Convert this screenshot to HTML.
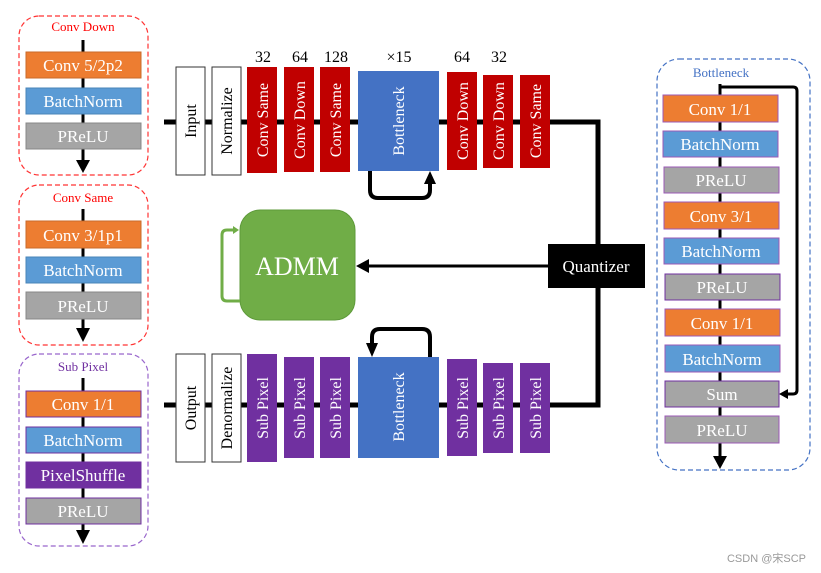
<!DOCTYPE html>
<html><head><meta charset="utf-8"><style>
html,body{margin:0;padding:0;background:#fff}
svg{display:block}
text{font-family:"Liberation Serif",serif}
</style></head><body>
<svg width="821" height="573" viewBox="0 0 821 573" xmlns="http://www.w3.org/2000/svg">
<defs>
<marker id="ah" markerWidth="8" markerHeight="8" refX="4" refY="4" orient="auto" markerUnits="userSpaceOnUse"><path d="M0,0 L8,4 L0,8 Z" fill="#000"/></marker>
</defs>
<!-- Left panel: Conv Down -->
<rect x="19" y="16" width="129" height="159" rx="20" fill="none" stroke="#f33" stroke-width="1.2" stroke-dasharray="5,3"/>
<text x="83" y="31" font-size="13" fill="#f00" text-anchor="middle">Conv Down</text>
<line x1="83" y1="40" x2="83" y2="162" stroke="#000" stroke-width="3"/>
<path d="M76,160 L90,160 L83,173 Z"/>
<rect x="26" y="52" width="115" height="26" fill="#ED7D31" stroke="#c96a2a"/>
<text x="83" y="71" font-size="17" fill="#fff" text-anchor="middle">Conv 5/2p2</text>
<rect x="26" y="88" width="115" height="26" fill="#5B9BD5" stroke="#4a84b8"/>
<text x="83" y="107" font-size="17" fill="#fff" text-anchor="middle">BatchNorm</text>
<rect x="26" y="123" width="115" height="26" fill="#A5A5A5" stroke="#888"/>
<text x="83" y="142" font-size="17" fill="#fff" text-anchor="middle">PReLU</text>
<!-- Conv Same -->
<rect x="19" y="185" width="129" height="160" rx="20" fill="none" stroke="#f33" stroke-width="1.2" stroke-dasharray="5,3"/>
<text x="83" y="202" font-size="13" fill="#f00" text-anchor="middle">Conv Same</text>
<line x1="83" y1="209" x2="83" y2="330" stroke="#000" stroke-width="3"/>
<path d="M76,328 L90,328 L83,342 Z"/>
<rect x="26" y="221" width="115" height="27" fill="#ED7D31" stroke="#c96a2a"/>
<text x="83" y="241" font-size="17" fill="#fff" text-anchor="middle">Conv 3/1p1</text>
<rect x="26" y="257" width="115" height="26" fill="#5B9BD5" stroke="#4a84b8"/>
<text x="83" y="276" font-size="17" fill="#fff" text-anchor="middle">BatchNorm</text>
<rect x="26" y="292" width="115" height="27" fill="#A5A5A5" stroke="#888"/>
<text x="83" y="312" font-size="17" fill="#fff" text-anchor="middle">PReLU</text>
<!-- Sub Pixel -->
<rect x="19" y="354" width="129" height="192" rx="20" fill="none" stroke="#9966cc" stroke-width="1.2" stroke-dasharray="5,3"/>
<text x="83" y="371" font-size="13" fill="#7030A0" text-anchor="middle">Sub Pixel</text>
<line x1="83" y1="378" x2="83" y2="532" stroke="#000" stroke-width="3"/>
<path d="M76,530 L90,530 L83,544 Z"/>
<rect x="26" y="391" width="115" height="26" fill="#ED7D31" stroke="#7030A0"/>
<text x="83" y="410" font-size="17" fill="#fff" text-anchor="middle">Conv 1/1</text>
<rect x="26" y="427" width="115" height="26" fill="#5B9BD5" stroke="#7030A0"/>
<text x="83" y="446" font-size="17" fill="#fff" text-anchor="middle">BatchNorm</text>
<rect x="26" y="462" width="115" height="26" fill="#7030A0" stroke="#7030A0"/>
<text x="83" y="481" font-size="17" fill="#fff" text-anchor="middle">PixelShuffle</text>
<rect x="26" y="498" width="115" height="26" fill="#A5A5A5" stroke="#7030A0"/>
<text x="83" y="517" font-size="17" fill="#fff" text-anchor="middle">PReLU</text>

<!-- main lines -->
<polyline points="164,122 598,122 598,405 164,405" fill="none" stroke="#000" stroke-width="5"/>
<!-- top row -->
<g font-size="16" fill="#fff" text-anchor="middle">
<rect x="176" y="67" width="29" height="108" fill="#fff" stroke="#333"/>
<text transform="translate(196,121) rotate(-90)" fill="#000">Input</text>
<rect x="212" y="67" width="29" height="108" fill="#fff" stroke="#333"/>
<text transform="translate(232,121) rotate(-90)" fill="#000">Normalize</text>
<rect x="247" y="67" width="30" height="106" fill="#C00000"/>
<text transform="translate(268,120) rotate(-90)">Conv Same</text>
<rect x="284" y="67" width="30" height="105" fill="#C00000"/>
<text transform="translate(305,120) rotate(-90)">Conv Down</text>
<rect x="320" y="67" width="30" height="105" fill="#C00000"/>
<text transform="translate(341,120) rotate(-90)">Conv Same</text>
<rect x="358" y="71" width="81" height="100" fill="#4472C4"/>
<text transform="translate(404,121) rotate(-90)">Bottleneck</text>
<rect x="447" y="72" width="30" height="98" fill="#C00000"/>
<text transform="translate(468,121) rotate(-90)">Conv Down</text>
<rect x="483" y="75" width="30" height="93" fill="#C00000"/>
<text transform="translate(504,121) rotate(-90)">Conv Down</text>
<rect x="520" y="75" width="30" height="93" fill="#C00000"/>
<text transform="translate(541,121) rotate(-90)">Conv Same</text>
</g>
<g font-size="16" fill="#000" text-anchor="middle">
<text x="263" y="62">32</text><text x="300" y="62">64</text><text x="336" y="62">128</text>
<text x="399" y="62">×15</text><text x="462" y="62">64</text><text x="499" y="62">32</text>
</g>
<path d="M370,171 L370,190 Q370,198 378,198 L422,198 Q430,198 430,190 L430,182" fill="none" stroke="#000" stroke-width="4"/>
<path d="M424,184 L436,184 L430,171 Z"/>
<!-- bottom row -->
<g font-size="16" fill="#fff" text-anchor="middle">
<rect x="176" y="354" width="29" height="108" fill="#fff" stroke="#333"/>
<text transform="translate(196,408) rotate(-90)" fill="#000">Output</text>
<rect x="212" y="354" width="29" height="108" fill="#fff" stroke="#333"/>
<text transform="translate(232,408) rotate(-90)" fill="#000">Denormalize</text>
<rect x="247" y="354" width="30" height="108" fill="#7030A0"/>
<text transform="translate(268,408) rotate(-90)">Sub Pixel</text>
<rect x="284" y="357" width="30" height="101" fill="#7030A0"/>
<text transform="translate(305,408) rotate(-90)">Sub Pixel</text>
<rect x="320" y="357" width="30" height="101" fill="#7030A0"/>
<text transform="translate(341,408) rotate(-90)">Sub Pixel</text>
<rect x="358" y="357" width="81" height="101" fill="#4472C4"/>
<text transform="translate(404,407) rotate(-90)">Bottleneck</text>
<rect x="447" y="359" width="30" height="97" fill="#7030A0"/>
<text transform="translate(468,408) rotate(-90)">Sub Pixel</text>
<rect x="483" y="363" width="30" height="90" fill="#7030A0"/>
<text transform="translate(504,408) rotate(-90)">Sub Pixel</text>
<rect x="520" y="363" width="30" height="90" fill="#7030A0"/>
<text transform="translate(541,408) rotate(-90)">Sub Pixel</text>
</g>
<path d="M430,357 L430,337 Q430,329 422,329 L380,329 Q372,329 372,337 L372,345" fill="none" stroke="#000" stroke-width="4"/>
<path d="M366,343 L378,343 L372,357 Z"/>
<!-- Quantizer / ADMM -->
<rect x="548" y="244" width="97" height="44" fill="#000"/>
<text x="596" y="272" font-size="17" fill="#fff" text-anchor="middle">Quantizer</text>
<line x1="548" y1="266" x2="368" y2="266" stroke="#000" stroke-width="3"/>
<path d="M369,259 L369,273 L356,266 Z"/>
<rect x="240" y="210" width="115" height="110" rx="20" fill="#70AD47" stroke="#5e9a3a"/>
<text x="297" y="275" font-size="26" fill="#fff" text-anchor="middle">ADMM</text>
<path d="M240,301 L227,301 Q222,301 222,296 L222,235 Q222,230 227,230 L233,230" fill="none" stroke="#70AD47" stroke-width="3"/>
<path d="M233,226 L239,230 L233,234 Z" fill="#70AD47"/>
<!-- Right panel -->
<rect x="657" y="59" width="153" height="411" rx="22" fill="none" stroke="#4472C4" stroke-width="1.2" stroke-dasharray="5,3"/>
<text x="721" y="77" font-size="13" fill="#4472C4" text-anchor="middle">Bottleneck</text>
<line x1="720" y1="84" x2="720" y2="458" stroke="#000" stroke-width="3"/>
<path d="M713,456 L727,456 L720,469 Z"/>
<path d="M720,87 L793,87 Q797,87 797,91 L797,390 Q797,394 793,394 L787,394" fill="none" stroke="#000" stroke-width="3"/>
<path d="M788,389 L788,399 L779,394 Z"/>
<g font-size="17" fill="#fff" text-anchor="middle">
<rect x="663" y="95" width="115" height="27" fill="#ED7D31" stroke="#9b59b6"/><text x="720" y="115">Conv 1/1</text>
<rect x="663" y="131" width="115" height="26" fill="#5B9BD5" stroke="#9b59b6"/><text x="720" y="150">BatchNorm</text>
<rect x="664" y="167" width="115" height="26" fill="#A5A5A5" stroke="#9b59b6"/><text x="721" y="186">PReLU</text>
<rect x="664" y="202" width="115" height="27" fill="#ED7D31" stroke="#9b59b6"/><text x="721" y="222">Conv 3/1</text>
<rect x="664" y="238" width="115" height="26" fill="#5B9BD5" stroke="#9b59b6"/><text x="721" y="257">BatchNorm</text>
<rect x="665" y="274" width="115" height="26" fill="#A5A5A5" stroke="#7030A0"/><text x="722" y="293">PReLU</text>
<rect x="665" y="309" width="115" height="27" fill="#ED7D31" stroke="#9b59b6"/><text x="722" y="329">Conv 1/1</text>
<rect x="665" y="345" width="115" height="27" fill="#5B9BD5" stroke="#9b59b6"/><text x="722" y="365">BatchNorm</text>
<rect x="665" y="381" width="114" height="26" fill="#A5A5A5" stroke="#7030A0"/><text x="722" y="400">Sum</text>
<rect x="665" y="416" width="114" height="27" fill="#A5A5A5" stroke="#9b59b6"/><text x="722" y="436">PReLU</text>
</g>
<text x="806" y="562" font-size="11" fill="#999" text-anchor="end" style="font-family:'Liberation Sans','Noto Sans CJK SC',sans-serif">CSDN @宋SCP</text>
</svg>
</body></html>
